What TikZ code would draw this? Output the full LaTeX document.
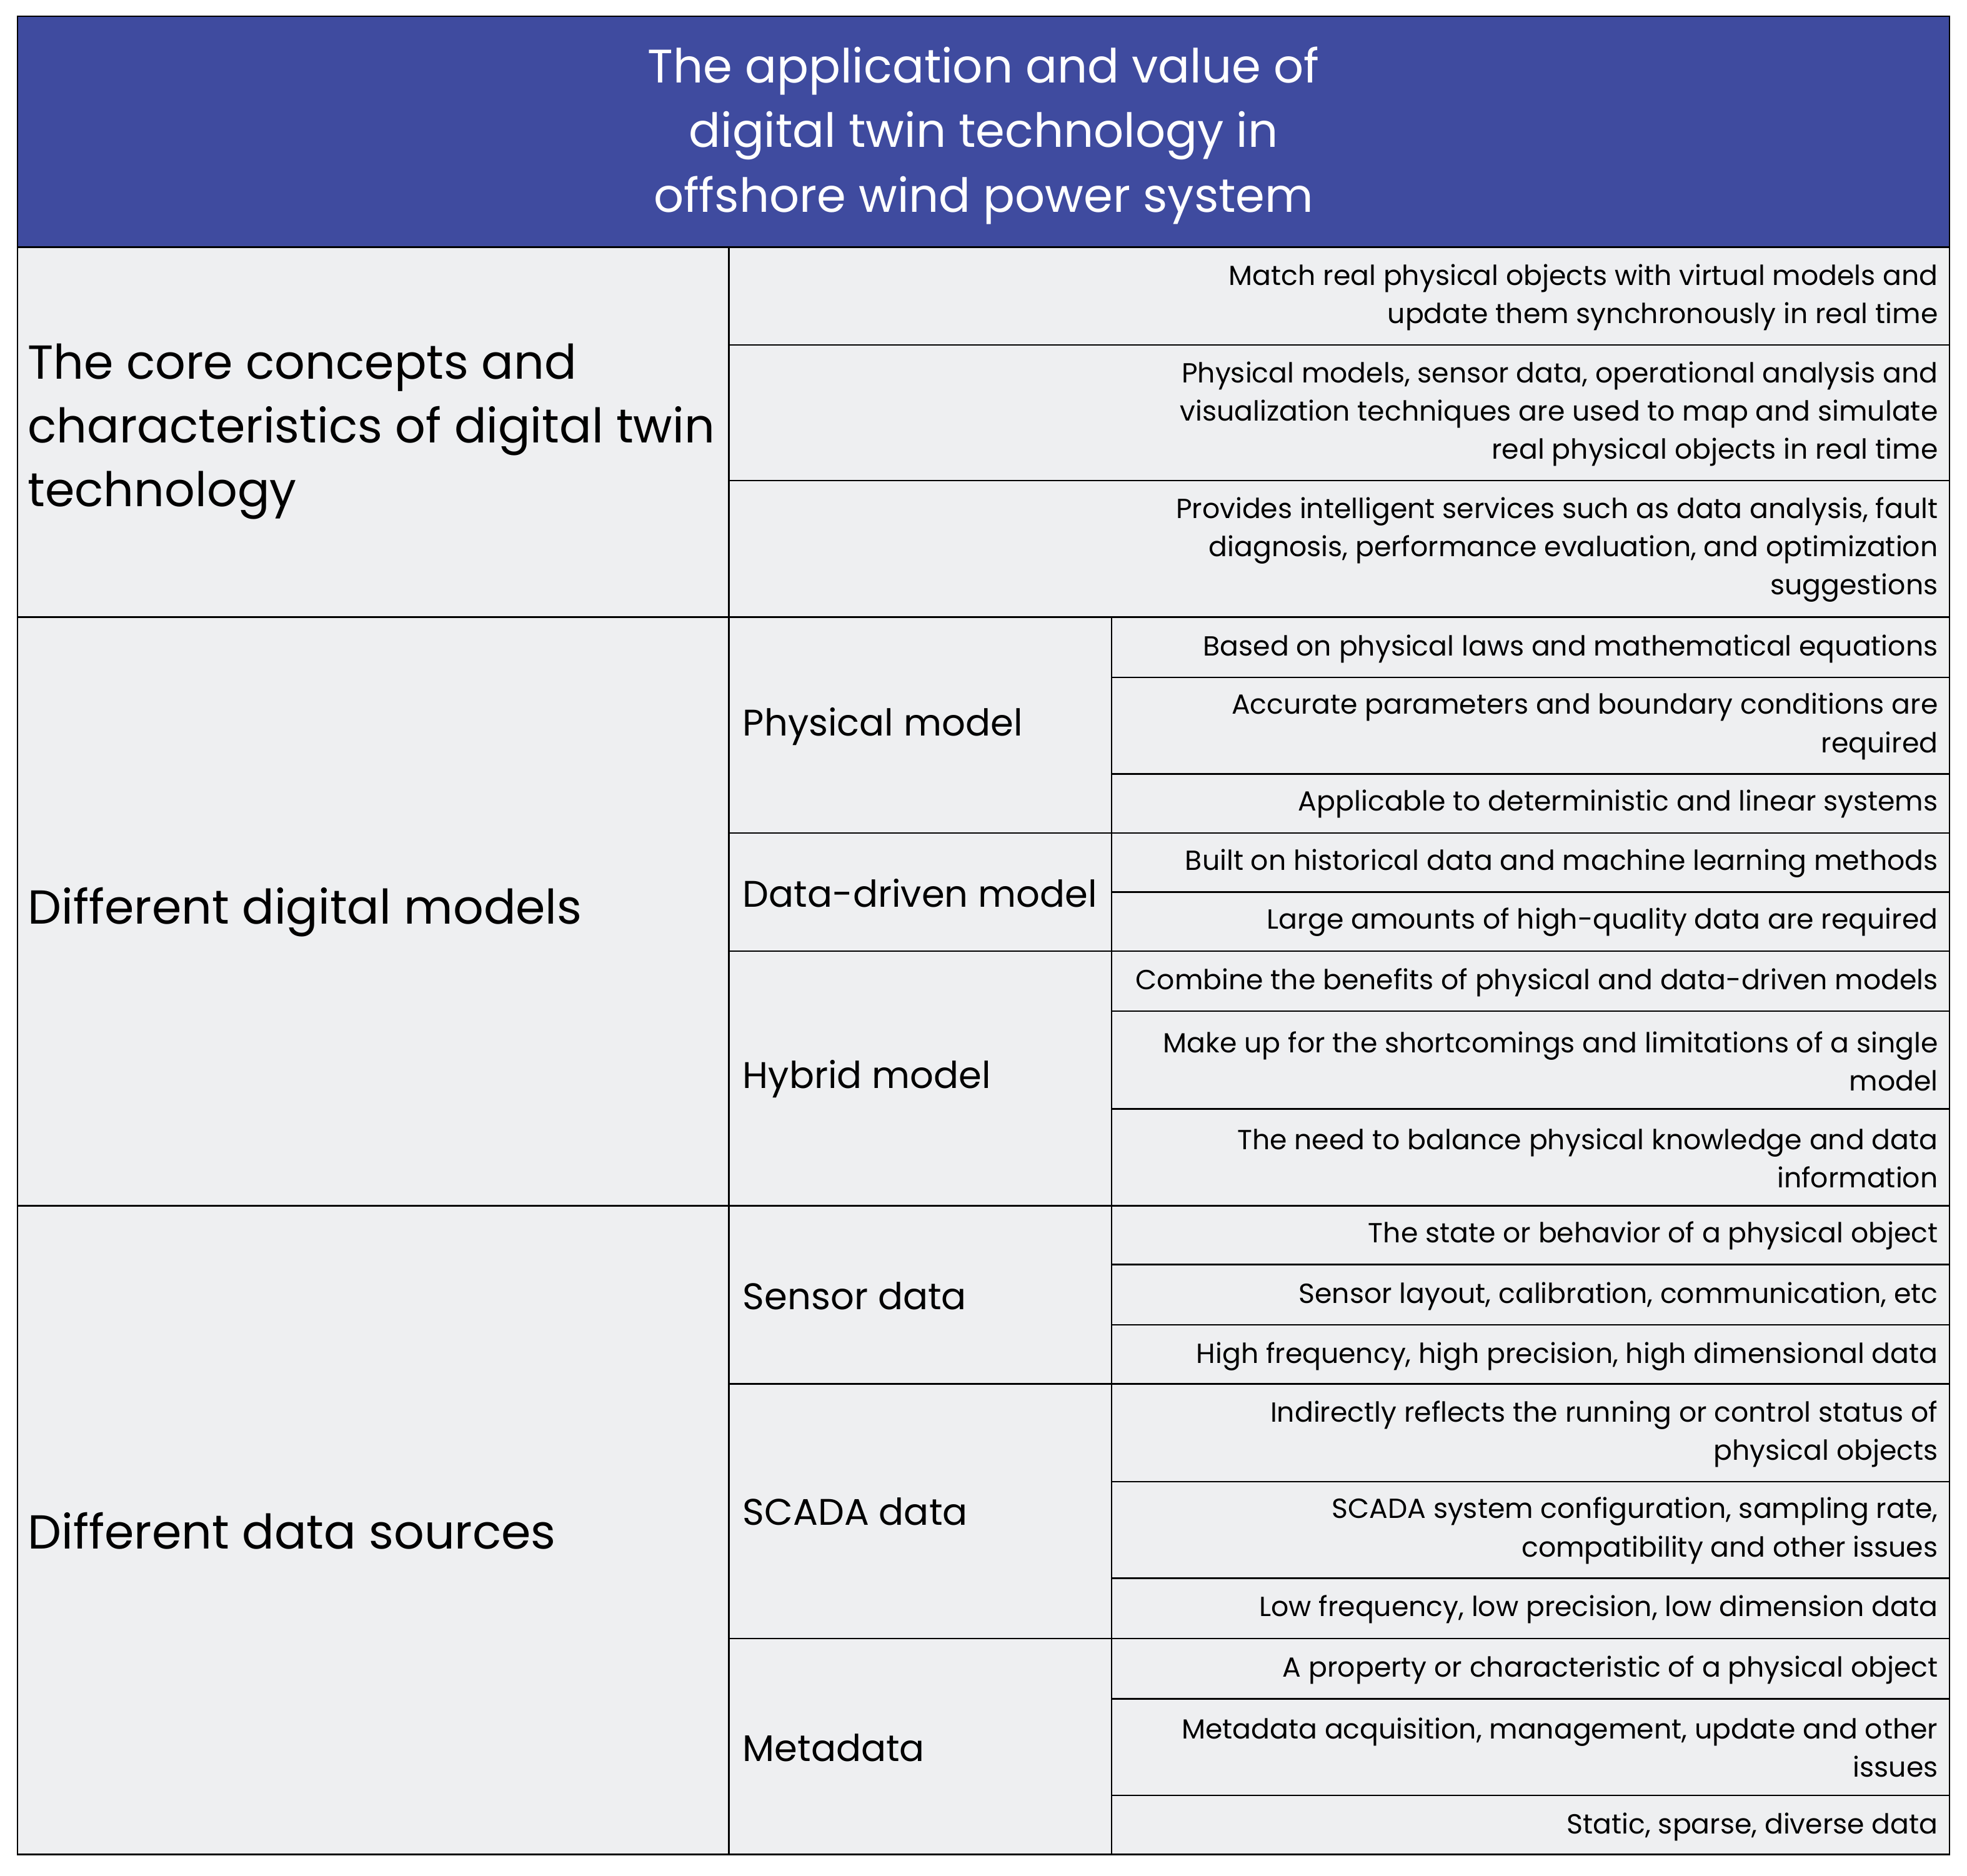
\documentclass[tikz,border=0pt]{standalone}
\usepackage{fontspec}
\setmainfont{Poppins}
\definecolor{hdr}{HTML}{3F4B9F}
\definecolor{cell}{HTML}{EEEFF1}
\begin{document}
\begin{tikzpicture}[x=1pt,y=-1pt,
  grid/.style={draw=black,line width=1.3pt,fill=cell},
  sm/.style={anchor=east,align=right,font=\fontsize{22}{30.5}\selectfont,inner sep=0pt},
  mid/.style={anchor=west,align=left,font=\fontsize{29.5}{40}\selectfont,inner sep=0pt},
  big/.style={anchor=west,align=left,font=\fontsize{38}{51}\selectfont,inner sep=0pt}]
\useasboundingbox[fill=white] (0,0) rectangle (1568,1495);
\fill[hdr] (14,13) rectangle (1554,197);
\node[align=center,text=white,font=\fontsize{37.5}{51.5}\selectfont] (title) at (784,108) {The application and value of\\digital twin technology in\\offshore wind power system};
% cells
\foreach \a/\b in {197/275,275/383,383/492}{\draw[grid] (581,\a) rectangle (1554,\b);}
\foreach \a/\b in {492/540,540/617,617/664,664/711,711/758,758/806,806/884,884/961,961/1008,1008/1056,1056/1103,1103/1181,1181/1258,1258/1306,1306/1354,1354/1431,1431/1478}{\draw[grid] (886,\a) rectangle (1554,\b);}
\foreach \a/\b in {492/664,664/758,758/961,961/1103,1103/1306,1306/1478}{\draw[grid] (581,\a) rectangle (886,\b);}
\foreach \a/\b in {197/492,492/961,961/1478}{\draw[grid] (14,\a) rectangle (581,\b);}
\draw[line width=1.3pt] (14,13) rectangle (1554,1478);
% left
\node[big] (s1) at (22,344) {The core concepts and\\characteristics of digital twin\\technology};
\node[big] (s2) at (22,727) {Different digital models};
\node[big] (s3) at (22,1220) {Different data sources};
\node[mid] (m1) at (592,579) {Physical model};
\node[mid] (m2) at (592,712) {Data-driven model};
\node[mid] (m3) at (592,860) {Hybrid model};
\node[mid] (m4) at (592,1033) {Sensor data};
\node[mid] (m5) at (592,1205) {SCADA data};
\node[mid] (m6) at (592,1393) {Metadata};
% right texts
\node[sm] (t1) at (1545,237) {Match real physical objects with virtual models and\\update them synchronously in real time};
\node[sm] (t2) at (1545,330) {Physical models, sensor data, operational analysis and\\visualization techniques are used to map and simulate\\real physical objects in real time};
\node[sm] (t3) at (1545,438) {Provides intelligent services such as data analysis, fault\\diagnosis, performance evaluation, and optimization\\suggestions};
\node[sm] (t4) at (1545,517) {Based on physical laws and mathematical equations};
\node[sm] (t5) at (1545,579) {Accurate parameters and boundary conditions are\\required};
\node[sm] (t6) at (1545,641) {Applicable to deterministic and linear systems};
\node[sm] (t7) at (1545,688) {Built on historical data and machine learning methods};
\node[sm] (t8) at (1545,735) {Large amounts of high-quality data are required};
\node[sm] (t9) at (1545,783) {Combine the benefits of physical and data-driven models};
\node[sm] (t10) at (1545,846) {Make up for the shortcomings and limitations of a single\\model};
\node[sm] (t11) at (1545,923) {The need to balance physical knowledge and data\\information};
\node[sm] (t12) at (1545,985) {The state or behavior of a physical object};
\node[sm] (t13) at (1545,1033) {Sensor layout, calibration, communication, etc};
\node[sm] (t14) at (1545,1081) {High frequency, high precision, high dimensional data};
\node[sm] (t15) at (1545,1143) {Indirectly reflects the running or control status of\\physical objects};
\node[sm] (t16) at (1545,1220) {SCADA system configuration, sampling rate,\\compatibility and other issues};
\node[sm] (t17) at (1545,1283) {Low frequency, low precision, low dimension data};
\node[sm] (t18) at (1545,1331) {A property or characteristic of a physical object};
\node[sm] (t19) at (1545,1393) {Metadata acquisition, management, update and other\\issues};
\node[sm] (t20) at (1545,1456) {Static, sparse, diverse data};
\end{tikzpicture}
\end{document}
